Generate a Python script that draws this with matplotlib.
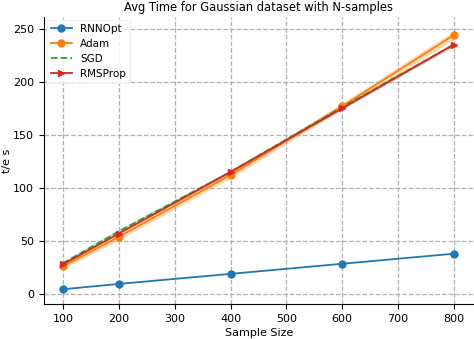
import matplotlib
matplotlib.use("Agg")
import matplotlib.pyplot as plt
import numpy as np

sizes = [100, 200, 400, 600, 800]
rnnopt = [4.5, 9.5, 19, 28.5, 38]
adam = [26, 54, 112, 177, 244]
sgd = [29, 59, 115, 176, 235]
rmsprop = [28, 57, 115, 175, 235]
adam_err = [2, 3, 3, 3, 4]
sgd_err = [2, 2, 2, 2, 2]

fig = plt.figure(figsize=(4.74, 3.39), dpi=100)
ax = fig.add_axes([44/474, 35/339, 430/474, 287/339])

ax.plot(sizes, rnnopt, marker='o', color='#1f77b4', label='RNNOpt', markersize=5, lw=1.3)
ax.fill_between(sizes, np.array(adam)-np.array(adam_err), np.array(adam)+np.array(adam_err), color='#ff7f0e', alpha=0.3, lw=0)
ax.plot(sizes, adam, marker='o', color='#ff7f0e', label='Adam', markersize=5, lw=1.3)
ax.fill_between(sizes, np.array(sgd)-np.array(sgd_err), np.array(sgd)+np.array(sgd_err), color='#2ca02c', alpha=0.3, lw=0)
ax.plot(sizes, sgd, ls='--', color='#2ca02c', label='SGD', lw=1.3)
ax.plot(sizes, rmsprop, marker='>', color='#d62728', label='RMSProp', markersize=5, lw=1.3)

ax.set_xlim(66, 836)
ax.set_ylim(-9.4, 261)
ax.set_xticks([100, 200, 300, 400, 500, 600, 700, 800])
ax.set_yticks([0, 50, 100, 150, 200, 250])
ax.grid(True, ls='--', color='#b0b0b0', lw=0.9)
ax.spines['top'].set_visible(False)
ax.spines['right'].set_visible(False)
ax.tick_params(labelsize=8)
ax.set_xlabel('Sample Size', fontsize=8, labelpad=3)
ax.set_ylabel('t/e s', fontsize=8)
ax.yaxis.set_label_coords(-32/430, 0.5)
ax.set_title('Avg Time for Gaussian dataset with N-samples', fontsize=8.3, pad=4)
leg = ax.legend(loc='upper left', fontsize=7.5, framealpha=0.8, labelspacing=0.48,
                borderaxespad=0.25, fancybox=False)
leg.get_frame().set_edgecolor('#eeeeee')

fig.savefig('out.png', dpi=100)
